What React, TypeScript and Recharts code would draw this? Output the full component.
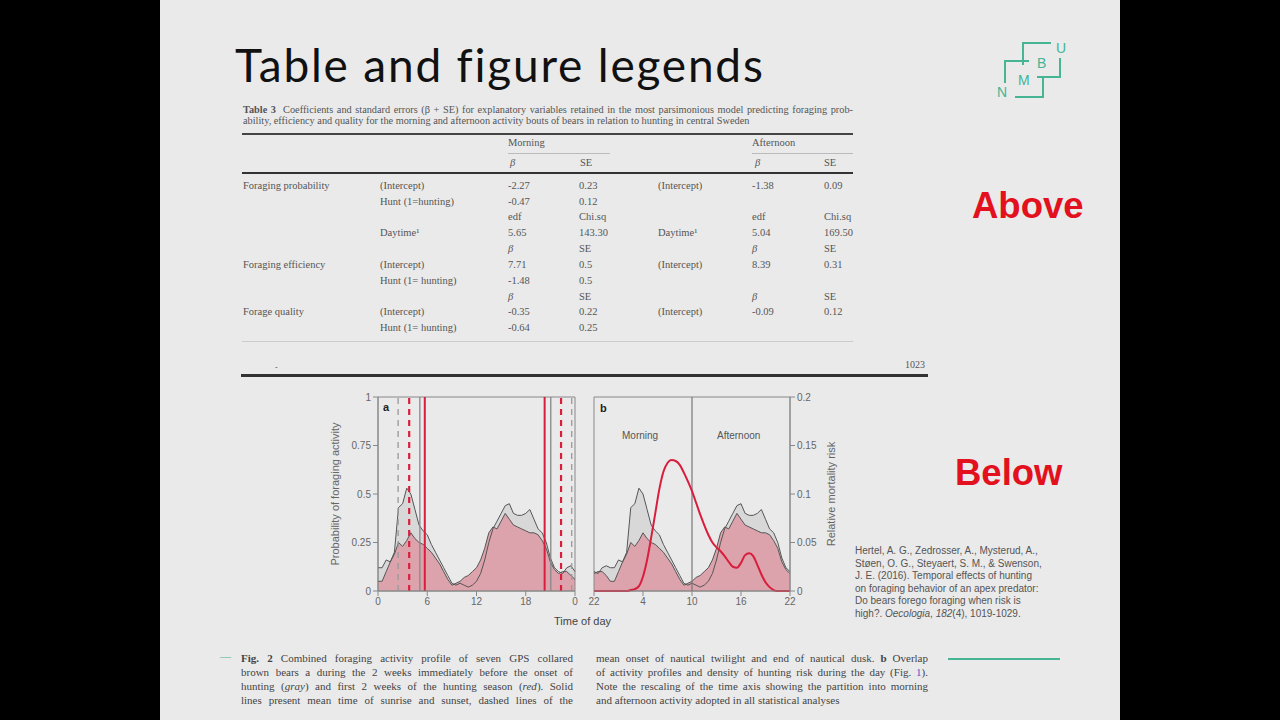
import React from 'react';
import {
  ComposedChart, Area, Line, XAxis, YAxis,
  ReferenceLine, ReferenceArea,
} from 'recharts';

// half-hour grid, hour of day
const hours = [
  0, 0.5, 1, 1.5, 2, 2.5, 3, 3.5, 4, 4.5, 5, 5.5, 6, 6.5, 7, 7.5, 8, 8.5, 9, 9.5,
  10, 10.5, 11, 11.5, 12, 12.5, 13, 13.5, 14, 14.5, 15, 15.5, 16, 16.5, 17, 17.5,
  18, 18.5, 19, 19.5, 20, 20.5, 21, 21.5, 22, 22.5, 23, 23.5, 24,
];
// gray: 2 weeks before hunting
const preHunt = [
  0.12, 0.12, 0.16, 0.15, 0.2, 0.43, 0.45, 0.53, 0.5, 0.42, 0.34, 0.31, 0.29, 0.24, 0.2, 0.16,
  0.12, 0.08, 0.04, 0.03, 0.04, 0.03, 0.02, 0.03, 0.05, 0.09, 0.16, 0.25, 0.32, 0.36, 0.4, 0.44,
  0.45, 0.4, 0.39, 0.39, 0.4, 0.42, 0.37, 0.32, 0.3, 0.25, 0.17, 0.12, 0.1, 0.09, 0.12, 0.13, 0.1,
];
// red: first 2 weeks of hunting season
const hunting = [
  0.05, 0.05, 0.1, 0.15, 0.19, 0.25, 0.23, 0.26, 0.3, 0.27, 0.25, 0.24, 0.22, 0.2, 0.17, 0.14,
  0.1, 0.06, 0.03, 0.04, 0.05, 0.07, 0.08, 0.1, 0.12, 0.16, 0.22, 0.3, 0.33, 0.32, 0.36, 0.4,
  0.37, 0.34, 0.33, 0.32, 0.31, 0.3, 0.3, 0.29, 0.26, 0.22, 0.15, 0.11, 0.09, 0.1, 0.1, 0.08, 0.06,
];
// relative mortality risk (panel b, right axis)
const risk = [
  0, 0, 0, 0, 0, 0.001, 0.002, 0.005, 0.015, 0.032, 0.055, 0.08, 0.105, 0.123, 0.132, 0.135,
  0.134, 0.13, 0.122, 0.113, 0.103, 0.091, 0.079, 0.068, 0.058, 0.05, 0.045, 0.041, 0.036, 0.03,
  0.025, 0.024, 0.029, 0.037, 0.039, 0.036, 0.027, 0.017, 0.009, 0.004, 0.001, 0, 0, 0, 0, 0, 0, 0, 0,
];

const sunLinesGray = [5.1, 21.05];
const sunLinesRed = [5.7, 20.3];
const twilightGray = [2.45, 23.6];
const twilightRed = [3.8, 22.3];

const ticksA = [0, 6, 12, 18, 24];
const ticksB = [22, 28, 34, 40, 46];
const ticksProb = [0, 0.25, 0.5, 0.75, 1];
const ticksRisk = [0, 0.05, 0.1, 0.15, 0.2];

const dataA = hours.map((h, i) => ({ h, pre: preHunt[i], hunt: hunting[i] }));
// panel b: same day re-cut to start at 22:00
const dataB = [
  ...hours.map((h, i) => ({ h, i })).filter(d => d.h >= 22 && d.h < 24),
  ...hours.map((h, i) => ({ h: h + 24, i })).filter(d => d.h <= 46),
].map(d => ({ h: d.h, pre: preHunt[d.i], hunt: hunting[d.i], risk: risk[d.i] }));

const tableRows = [
  ['Foraging probability', '(Intercept)', '-2.27', '0.23', '(Intercept)', '-1.38', '0.09'],
  ['', 'Hunt (1=hunting)', '-0.47', '0.12', '', '', ''],
  ['', '', 'edf', 'Chi.sq', '', 'edf', 'Chi.sq'],
  ['', 'Daytime¹', '5.65', '143.30', 'Daytime¹', '5.04', '169.50'],
  ['', '', 'β', 'SE', '', 'β', 'SE'],
  ['Foraging efficiency', '(Intercept)', '7.71', '0.5', '(Intercept)', '8.39', '0.31'],
  ['', 'Hunt (1= hunting)', '-1.48', '0.5', '', '', ''],
  ['', '', 'β', 'SE', '', 'β', 'SE'],
  ['Forage quality', '(Intercept)', '-0.35', '0.22', '(Intercept)', '-0.09', '0.12'],
  ['', 'Hunt (1= hunting)', '-0.64', '0.25', '', '', ''],
];
const rowY = [187, 203, 218, 234, 250, 266, 282, 298, 313, 329];
const colX = [243, 380, 508, 579, 658, 752, 824];

const citation = [
  'Hertel, A. G., Zedrosser, A., Mysterud, A.,',
  'Støen, O. G., Steyaert, S. M., & Swenson,',
  'J. E. (2016). Temporal effects of hunting',
  'on foraging behavior of an apex predator:',
  'Do bears forego foraging when risk is',
];

const SANS = '"Liberation Sans", Arial, sans-serif';
const SERIF = '"Liberation Serif", "Times New Roman", serif';
const TEAL = '#45b594';
const RED = '#d81e3c';
const PINK = '#dda3ac';
const GRAYFILL = '#d8d8d8';
const AXIS = '#888';

const tickStyle = { fill: '#666', fontSize: 10, fontFamily: SANS };

function T({ x, y, children, style }: any) {
  return (
    <div style={{ position: 'absolute', left: x, top: y, whiteSpace: 'nowrap', lineHeight: 1, ...style }}>
      {children}
    </div>
  );
}

function PanelA() {
  return (
    <ComposedChart width={262} height={245} data={dataA} margin={{ top: 12, right: 7, bottom: 0, left: 0 }}>
      <XAxis dataKey="h" type="number" domain={[0, 24]} ticks={ticksA} interval={0} tickFormatter={v => String(v % 24)}
        tick={tickStyle} tickSize={5} height={39} axisLine={{ stroke: AXIS }} tickLine={{ stroke: AXIS }} />
      <YAxis type="number" domain={[0, 1]} ticks={ticksProb} interval={0} tick={tickStyle} tickSize={5} width={58}
        axisLine={{ stroke: AXIS }} tickLine={{ stroke: AXIS }}
        label={{ value: 'Probability of foraging activity', angle: -90, position: 'insideLeft', offset: 15,
          style: { textAnchor: 'middle', fill: '#666', fontSize: 11, fontFamily: SANS } }} />
      <Area dataKey="pre" type="linear" fill={GRAYFILL} fillOpacity={1} stroke="none" isAnimationActive={false} />
      <Area dataKey="hunt" type="linear" fill={PINK} fillOpacity={1} stroke="none" isAnimationActive={false} />
      <Line dataKey="pre" type="linear" stroke="#555" strokeWidth={1} dot={false} isAnimationActive={false} />
      <Line dataKey="hunt" type="linear" stroke="#555" strokeWidth={1} dot={false} isAnimationActive={false} />
      {twilightGray.map(x => <ReferenceLine key={'tg' + x} x={x} stroke="#999" strokeWidth={1.3} strokeDasharray="6 5" />)}
      {twilightRed.map(x => <ReferenceLine key={'tr' + x} x={x} stroke={RED} strokeWidth={2.2} strokeDasharray="6 5" />)}
      {sunLinesGray.map(x => <ReferenceLine key={'sg' + x} x={x} stroke="#888" strokeWidth={1.3} />)}
      {sunLinesRed.map(x => <ReferenceLine key={'sr' + x} x={x} stroke={RED} strokeWidth={2} />)}
      <ReferenceArea x1={0} x2={24} y1={0} y2={1} fill="none" stroke={AXIS} strokeWidth={1} />
    </ComposedChart>
  );
}

function PanelB() {
  return (
    <ComposedChart width={265} height={245} data={dataB} margin={{ top: 12, right: 5, bottom: 0, left: 14 }}>
      <XAxis dataKey="h" type="number" domain={[22, 46]} ticks={ticksB} interval={0} tickFormatter={v => String(v % 24)}
        tick={tickStyle} tickSize={5} height={39} axisLine={{ stroke: AXIS }} tickLine={{ stroke: AXIS }} />
      <YAxis yAxisId="act" type="number" domain={[0, 1]} hide />
      <YAxis yAxisId="risk" orientation="right" type="number" domain={[0, 0.2]} ticks={ticksRisk} interval={0} tick={tickStyle}
        tickSize={5} width={50} axisLine={{ stroke: AXIS }} tickLine={{ stroke: AXIS }}
        label={{ value: 'Relative mortality risk', angle: -90, position: 'insideRight', offset: 9,
          style: { textAnchor: 'middle', fill: '#666', fontSize: 11, fontFamily: SANS } }} />
      <Area yAxisId="act" dataKey="pre" type="linear" fill={GRAYFILL} fillOpacity={1} stroke="none" isAnimationActive={false} />
      <Area yAxisId="act" dataKey="hunt" type="linear" fill={PINK} fillOpacity={1} stroke="none" isAnimationActive={false} />
      <Line yAxisId="act" dataKey="pre" type="linear" stroke="#555" strokeWidth={1} dot={false} isAnimationActive={false} />
      <Line yAxisId="act" dataKey="hunt" type="linear" stroke="#555" strokeWidth={1} dot={false} isAnimationActive={false} />
      <ReferenceLine yAxisId="act" x={34} stroke="#777" strokeWidth={1.2} />
      <Line yAxisId="risk" dataKey="risk" type="monotone" stroke={RED} strokeWidth={2} dot={false} isAnimationActive={false} />
      <ReferenceArea yAxisId="act" x1={22} x2={46} y1={0} y2={1} fill="none" stroke={AXIS} strokeWidth={1} />
    </ComposedChart>
  );
}

function Logo() {
  const s = { stroke: TEAL, strokeWidth: 2, fill: 'none' };
  return (
    <svg width={80} height={70} style={{ position: 'absolute', left: 995, top: 36 }} viewBox="995 36 80 70">
      <polyline points="1051,43 1023,43 1023,65" {...s} />
      <polyline points="1029,61 1005,61 1005,83" {...s} />
      <polyline points="1037,77 1060,77 1060,58" {...s} />
      <polyline points="1043,77 1043,97 1015,97" {...s} />
      <text x={1056} y={53} fill={TEAL} fontSize={14} fontFamily={SANS}>U</text>
      <text x={1037} y={68} fill={TEAL} fontSize={14} fontFamily={SANS}>B</text>
      <text x={1018} y={85} fill={TEAL} fontSize={14} fontFamily={SANS}>M</text>
      <text x={997} y={97} fill={TEAL} fontSize={14} fontFamily={SANS}>N</text>
    </svg>
  );
}

export default function App() {
  const tableText = { fontFamily: SERIF, fontSize: 10.5, color: '#555' };
  const capLine = { position: 'absolute' as const, width: 332, fontFamily: SERIF, fontSize: 11, color: '#444',
    lineHeight: 1, textAlign: 'justify' as const, textAlignLast: 'justify' as const, whiteSpace: 'nowrap' as const };
  return (
    <div style={{ position: 'absolute', left: 0, top: 0, width: 1280, height: 720, background: '#000', overflow: 'hidden' }}>
      <div style={{ position: 'absolute', left: 160, top: 0, width: 960, height: 720, background: '#eaeaea' }} />

      <T x={235} y={42} style={{ fontFamily: 'Lato, sans-serif', fontSize: 46, letterSpacing: 1.8, color: '#111' }}>Table and figure legends</T>
      <Logo />

      {/* table */}
      <div style={{ position: 'absolute', left: 243, top: 104, width: 610, fontFamily: SERIF, fontSize: 10.3, color: '#555',
        lineHeight: '12px', textAlign: 'justify', textAlignLast: 'justify', whiteSpace: 'nowrap' }}>
        <b>Table 3</b>&nbsp; Coefficients and standard errors (β + SE) for explanatory variables retained in the most parsimonious model predicting foraging prob-
      </div>
      <T x={243} y={116} style={{ ...tableText, fontSize: 10.3 }}>
        ability, efficiency and quality for the morning and afternoon activity bouts of bears in relation to hunting in central Sweden
      </T>
      <div style={{ position: 'absolute', left: 242, top: 133, width: 611, height: 1.5, background: '#444' }} />
      <T x={508} y={138} style={tableText}>Morning</T>
      <T x={752} y={138} style={tableText}>Afternoon</T>
      <div style={{ position: 'absolute', left: 508, top: 153, width: 102, height: 1, background: '#bbb' }} />
      <div style={{ position: 'absolute', left: 752, top: 153, width: 101, height: 1, background: '#bbb' }} />
      <T x={510} y={158} style={{ ...tableText, fontStyle: 'italic' }}>β</T>
      <T x={580} y={158} style={tableText}>SE</T>
      <T x={755} y={158} style={{ ...tableText, fontStyle: 'italic' }}>β</T>
      <T x={824} y={158} style={tableText}>SE</T>
      <div style={{ position: 'absolute', left: 242, top: 172, width: 611, height: 1.5, background: '#333' }} />
      {tableRows.map((row, r) => row.map((cell, c) => cell ? (
        <T key={r + '-' + c} x={colX[c]} y={rowY[r] - 6}
          style={{ ...tableText, fontStyle: cell === 'β' ? 'italic' : 'normal' }}>{cell}</T>
      ) : null))}
      <div style={{ position: 'absolute', left: 242, top: 341, width: 611, height: 1, background: '#ccc' }} />
      <T x={905} y={360} style={{ ...tableText, fontSize: 10 }}>1023</T>
      <T x={275} y={364} style={{ ...tableText, fontSize: 8 }}>-</T>
      <div style={{ position: 'absolute', left: 241, top: 374, width: 687, height: 2.5, background: '#333' }} />

      {/* figure */}
      <div style={{ position: 'absolute', left: 320, top: 385 }}><PanelA /></div>
      <div style={{ position: 'absolute', left: 580, top: 385 }}><PanelB /></div>
      <T x={383} y={402} style={{ fontFamily: SANS, fontSize: 11, fontWeight: 'bold', color: '#222' }}>a</T>
      <T x={600} y={403} style={{ fontFamily: SANS, fontSize: 11, fontWeight: 'bold', color: '#222' }}>b</T>
      <T x={622} y={431} style={{ fontFamily: SANS, fontSize: 10, color: '#555' }}>Morning</T>
      <T x={717} y={431} style={{ fontFamily: SANS, fontSize: 10, color: '#555' }}>Afternoon</T>
      <T x={554} y={616} style={{ fontFamily: SANS, fontSize: 11, color: '#444' }}>Time of day</T>

      <T x={972} y={188} style={{ fontFamily: SANS, fontSize: 36.5, fontWeight: 'bold', color: '#e3101d' }}>Above</T>
      <T x={955} y={455} style={{ fontFamily: SANS, fontSize: 36.5, fontWeight: 'bold', color: '#e3101d' }}>Below</T>

      {citation.map((line, i) => (
        <T key={i} x={855} y={546 + i * 12.6} style={{ fontFamily: SANS, fontSize: 10, color: '#555' }}>{line}</T>
      ))}
      <T x={855} y={546 + 5 * 12.6} style={{ fontFamily: SANS, fontSize: 10, color: '#555' }}>
        high?. <i>Oecologia</i>, <i>182</i>(4), 1019-1029.
      </T>

      {/* caption */}
      <T x={220} y={651} style={{ color: TEAL, fontSize: 11 }}>—</T>
      <div style={{ ...capLine, left: 241, top: 653 }}><b>Fig. 2</b> Combined foraging activity profile of seven GPS collared</div>
      <div style={{ ...capLine, left: 241, top: 667 }}>brown bears a during the 2 weeks immediately before the onset of</div>
      <div style={{ ...capLine, left: 241, top: 681 }}>hunting (<i>gray</i>) and first 2 weeks of the hunting season (<i>red</i>). Solid</div>
      <div style={{ ...capLine, left: 241, top: 695 }}>lines present mean time of sunrise and sunset, dashed lines of the</div>
      <div style={{ ...capLine, left: 596, top: 653 }}>mean onset of nautical twilight and end of nautical dusk. <b>b</b> Overlap</div>
      <div style={{ ...capLine, left: 596, top: 667 }}>of activity profiles and density of hunting risk during the day (Fig. <span style={{ color: '#55c' }}>1</span>).</div>
      <div style={{ ...capLine, left: 596, top: 681 }}>Note the rescaling of the time axis showing the partition into morning</div>
      <div style={{ ...capLine, left: 596, top: 695, textAlignLast: 'left' }}>and afternoon activity adopted in all statistical analyses</div>
      <div style={{ position: 'absolute', left: 948, top: 658, width: 112, height: 1.5, background: TEAL }} />
    </div>
  );
}
